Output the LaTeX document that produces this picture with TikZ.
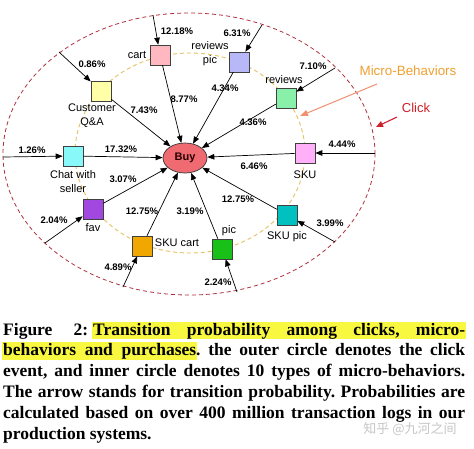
\documentclass[tikz,border=0pt]{standalone}
\usepackage{fontspec}
\setmainfont{Liberation Serif}
\setsansfont{Liberation Sans}
\newfontfamily\cjk{Noto Sans CJK SC}
\usetikzlibrary{arrows.meta,shapes.geometric}
\definecolor{cartc}{HTML}{FFB8C0}
\definecolor{rpc}{HTML}{B8B8F8}
\definecolor{qac}{HTML}{FFFFA8}
\definecolor{revc}{HTML}{88F0A8}
\definecolor{chatc}{HTML}{88F8F8}
\definecolor{skuc}{HTML}{FFB0F8}
\definecolor{favc}{HTML}{A048E0}
\definecolor{skupicc}{HTML}{00C0C0}
\definecolor{skucartc}{HTML}{F0A800}
\definecolor{picc}{HTML}{18C018}
\definecolor{buyc}{HTML}{F06A72}
\definecolor{innerc}{HTML}{E8C060}
\definecolor{outerc}{HTML}{B03040}
\definecolor{mbc}{HTML}{F0A030}
\definecolor{mbarrow}{HTML}{F09070}
\definecolor{clickc}{HTML}{D0202A}
\definecolor{hlc}{HTML}{F8F840}
\frenchspacing
\begin{document}
\begin{tikzpicture}[x=1pt,y=-1pt,
  box/.style={draw=black!75, line width=0.6pt, minimum size=20pt, inner sep=0pt},
  arr/.style={-{Triangle[length=7pt,width=5.5pt]}, line width=0.7pt},
  pct/.style={font=\sffamily\bfseries\fontsize{9.5}{10}\selectfont, inner sep=0pt},
  lab/.style={font=\sffamily\fontsize{11}{14}\selectfont, inner sep=0pt, align=center},
  captxt/.style={anchor=base west, inner sep=0pt, font=\bfseries\fontsize{17.5}{20}\selectfont}]
\useasboundingbox (0,0) rectangle (474,448);
\fill[white] (0,0) rectangle (474,448);
% circles
\draw[outerc, dashed, dash pattern=on 4pt off 3pt, line width=0.8pt] (189,154) ellipse [x radius=186pt, y radius=141pt];
\draw[innerc, dashed, dash pattern=on 4pt off 3pt, line width=0.9pt] (190,153) ellipse [x radius=115pt, y radius=100pt];
% nodes
\node[ellipse, draw=black!80, line width=0.7pt, fill=buyc, minimum width=44pt, minimum height=30pt, inner sep=0pt, font=\sffamily\bfseries\fontsize{11}{12}\selectfont, text=black!85!red] (buy) at (185,158) {Buy};
\node[box, fill=cartc] (cart) at (160,55) {};
\node[box, fill=rpc] (rp) at (239,62) {};
\node[box, fill=qac] (qa) at (101,91) {};
\node[box, fill=revc] (rev) at (286,98) {};
\node[box, fill=chatc] (chat) at (73,156) {};
\node[box, fill=skuc] (sku) at (305,153) {};
\node[box, fill=favc] (fav) at (93,209) {};
\node[box, fill=skupicc] (skupic) at (287,215) {};
\node[box, fill=skucartc] (skucart) at (142,246) {};
\node[box, fill=picc] (pic) at (222,249) {};
% node labels
\node[lab] (tcart) at (137,55) {cart};
\node[lab] (trp) at (210,54) {reviews\\pic};
\node[lab] (tqa) at (92,116) {Customer\\Q\&A};
\node[lab] (trev) at (284,80) {reviews};
\node[lab] (tchat) at (73,182) {Chat with\\seller};
\node[lab] (tsku) at (305,175) {SKU};
\node[lab] (tfav) at (93,228) {fav};
\node[lab] (tskupic) at (287,237) {SKU pic};
\node[lab] (tskucart) at (177,243) {SKU cart};
\node[lab] (tpic) at (229,231) {pic};
% arrows to buy
\foreach \n in {cart,rp,qa,rev,chat,sku,fav,skupic,skucart,pic}
  \draw[arr] (\n) -- (buy);
% outer start points
\coordinate (ocart) at (153,15);
\coordinate (orp) at (262,25);
\coordinate (oqa) at (59,52);
\coordinate (orev) at (335,68);
\coordinate (ochat) at (3,157);
\coordinate (osku) at (375,153);
\coordinate (ofav) at (45,243);
\coordinate (oskupic) at (335,242);
\coordinate (oskucart) at (123,287);
\coordinate (opic) at (237,292);
\draw[arr] (ocart) -- (cart);
\draw[arr] (orp) -- (rp);
\draw[arr] (oqa) -- (qa);
\draw[arr] (orev) -- (rev);
\draw[arr] (ochat) -- (chat);
\draw[arr] (osku) -- (sku);
\draw[arr] (ofav) -- (fav);
\draw[arr] (oskupic) -- (skupic);
\draw[arr] (oskucart) -- (skucart);
\draw[arr] (opic) -- (pic);
% outer percentages
\node[pct] (pocart) at (177,31) {12.18\%};
\node[pct] (porp) at (237,33) {6.31\%};
\node[pct] (poqa) at (92,64) {0.86\%};
\node[pct] (porev) at (313,66) {7.10\%};
\node[pct] (pochat) at (32,150) {1.26\%};
\node[pct] (posku) at (342,144) {4.44\%};
\node[pct] (pofav) at (54,220) {2.04\%};
\node[pct] (poskupic) at (330,223) {3.99\%};
\node[pct] (poskucart) at (118,267) {4.89\%};
\node[pct] (popic) at (218,282) {2.24\%};
% inner percentages
\node[pct] (pbcart) at (184,99) {8.77\%};
\node[pct] (pbrp) at (225,88) {4.34\%};
\node[pct] (pbqa) at (144,110) {7.43\%};
\node[pct] (pbrev) at (253,122) {4.36\%};
\node[pct] (pbchat) at (121,149) {17.32\%};
\node[pct] (pbsku) at (254,166) {6.46\%};
\node[pct] (pbfav) at (123,179) {3.07\%};
\node[pct] (pbskupic) at (238,199) {12.75\%};
\node[pct] (pbskucart) at (142,211) {12.75\%};
\node[pct] (pbpic) at (190,211) {3.19\%};
% legend annotations
\node[font=\sffamily\fontsize{13.4}{14}\selectfont, text=mbc, inner sep=0pt] (mbt) at (408,71) {Micro-Behaviors};
\coordinate (mbs) at (377,84);
\coordinate (mbe) at (300,116);
\draw[-{Triangle[length=8pt,width=6pt]}, mbarrow, line width=1pt] (mbs) -- (mbe);
\node[font=\sffamily\fontsize{13}{14}\selectfont, text=clickc, inner sep=0pt] (clk) at (416,108) {Click};
\coordinate (cks) at (397,117);
\coordinate (cke) at (376,127);
\draw[-{Triangle[length=7pt,width=6pt]}, clickc, line width=1.1pt] (cks) -- (cke);
% caption
\fill[hlc] (92,322) rectangle (466,339);
\fill[hlc] (2,342) rectangle (197,360);
\node[captxt] (c1a) at (3,335) {\makebox[85pt][s]{Figure 2:}};
\node[captxt] (c1b) at (93,335) {\makebox[372pt][s]{Transition probability among clicks, micro-}};
\node[captxt] (c2a) at (3,355) {\makebox[193pt][s]{behaviors and purchases}};
\node[captxt] (c2b) at (196,355) {\makebox[269pt][s]{. the outer circle denotes the click}};
\node[captxt] (c3) at (3,376) {\makebox[462pt][s]{event, and inner circle denotes 10 types of micro-behaviors.}};
\node[captxt] (c4) at (3,397) {\makebox[462pt][s]{The arrow stands for transition probability. Probabilities are}};
\node[captxt] (c5) at (3,418) {\makebox[462pt][s]{calculated based on over 400 million transaction logs in our}};
\node[captxt] (c6) at (3,439) {production systems.};
\node[font=\cjk\fontsize{13}{14}\selectfont, text=gray!45, inner sep=0pt] (wm) at (410,429) {知乎 @九河之间};
\end{tikzpicture}
\end{document}
